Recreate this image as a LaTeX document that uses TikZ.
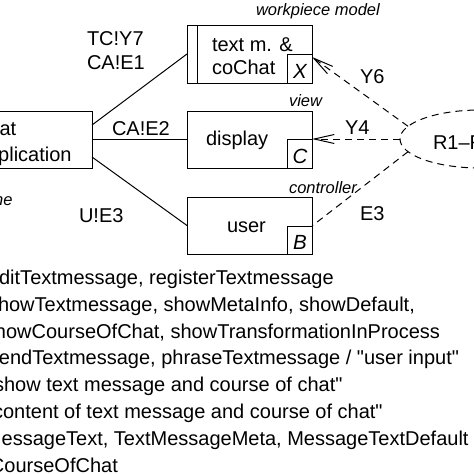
\documentclass[tikz,border=0pt]{standalone}
\usepackage{fontspec}
\setmainfont{Liberation Sans}[Ligatures=TeXOff]
\usetikzlibrary{arrows.meta,shapes.geometric}
\begin{document}
\begin{tikzpicture}[x=1pt,y=-1pt,
  every node/.style={inner sep=0pt, outer sep=0pt},
  lbl/.style={font=\fontsize{20}{24}\selectfont, anchor=base west},
  ital/.style={font=\fontsize{16.5}{20}\selectfont\itshape, anchor=base west},
  italr/.style={font=\fontsize{16.5}{20}\selectfont\itshape, anchor=base east},
  domletter/.style={font=\fontsize{20.5}{24}\selectfont\itshape, anchor=base},
  dombox/.style={draw, line width=1pt, rectangle, anchor=north west},
  iface/.style={line width=1pt},
  dashlink/.style={line width=1pt, dash pattern=on 7pt off 5pt},
  barb/.style={-{Straight Barb[length=20pt,width=9pt,line width=1pt]}}
]
\useasboundingbox (0,0) rectangle (474,474);
\fill[white] (0,0) rectangle (474,474);

% machine
\node[dombox, minimum width=132pt, minimum height=57pt] (chat) at (-40,111) {};
\node[lbl] (chatA) at (-26,135) {Chat};
\node[lbl] (chatB) at (-24,161) {application};
\node[italr] (machlbl) at (12.5,205) {machine};

% domains
\node[dombox, minimum width=125pt, minimum height=58pt] (wm) at (187,25) {};
\draw[line width=1pt] ([xshift=10pt]wm.north west) -- ([xshift=10pt]wm.south west);
\node[dombox, minimum width=25pt, minimum height=29pt] (xbox) at (287,54) {};
\node[domletter] (xlet) at (300,78) {X};
\node[lbl] (wmA) at (212,51) {text m. \&};
\node[lbl] (wmB) at (212,74) {coChat};
\node[ital] (wmlbl) at (256,15) {workpiece model};

\node[dombox, minimum width=125pt, minimum height=57pt] (disp) at (187,111) {};
\node[dombox, minimum width=25pt, minimum height=29pt] (cbox) at (287,139) {};
\node[domletter] (clet) at (300,163) {C};
\node[lbl] (dispA) at (206,145) {display};
\node[ital] (displbl) at (289,106) {view};

\node[dombox, minimum width=125pt, minimum height=57pt] (usr) at (187,197) {};
\node[dombox, minimum width=25pt, minimum height=28pt] (bbox) at (287,226) {};
\node[domletter] (blet) at (300,249) {B};
\node[lbl] (usrA) at (227,232) {user};
\node[ital] (usrlbl) at (289,193) {controller};

% requirement
\node[draw, ellipse, dashlink, minimum width=160pt, minimum height=58pt] (req) at (480,139) {};
\node[lbl] (reqA) at (433,149) {R1–R3};

% interfaces
\draw[iface] ([yshift=14.5pt]chat.east) -- (wm.west);
\draw[iface] (chat.east) -- (disp.west);
\draw[iface] ([yshift=-17.5pt]chat.east) -- (usr.west);
\node[lbl] (l1a) at (87,45) {TC!Y7};
\node[lbl] (l1b) at (87,69) {CA!E1};
\node[lbl] (l2) at (112,135) {CA!E2};
\node[lbl] (l3) at (79,222) {U!E3};

% requirement references
\draw[dashlink, barb] (req.170.7) -- ([yshift=-3pt]xbox.north east);
\draw[dashlink, barb] (req.west) -- (cbox.north east);
\draw[dashlink] (req.190.7) -- (bbox.north east);
\node[lbl] (r1) at (360,83) {Y6};
\node[lbl] (r2) at (345,134) {Y4};
\node[lbl] (r3) at (360,220) {E3};

% legend
\node[lbl] (t1) at (-12,284) {editTextmessage, registerTextmessage};
\node[lbl] (t2) at (-12,311) {showTextmessage, showMetaInfo, showDefault,};
\node[lbl] (t3) at (-15,338) {showCourseOfChat, showTransformationInProcess};
\node[lbl] (t4) at (-11,364) {sendTextmessage, phraseTextmessage / "user input"};
\node[lbl] (t5) at (-13,391) {"show text message and course of chat"};
\node[lbl] (t6) at (-14,418) {"content of text message and course of chat"};
\node[lbl] (t7) at (-15,445) {MessageText, TextMessageMeta, MessageTextDefault};
\node[lbl] (t8) at (-10,472) {CourseOfChat};
\end{tikzpicture}
\end{document}
